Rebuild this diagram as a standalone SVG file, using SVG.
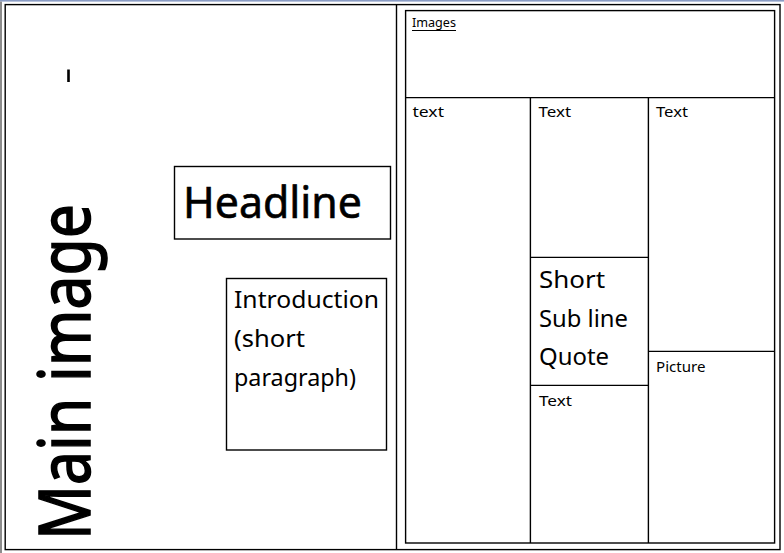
<svg xmlns="http://www.w3.org/2000/svg" width="784" height="553" viewBox="0 0 784 553">
<style>
.ln{fill:none;stroke:#000;stroke-width:1.4}
.t{font-family:"Noto Sans","Open Sans",sans-serif;fill:#000}
.s{font-size:14px}
.m{font-size:23px}
</style>
<rect x="0" y="0" width="784" height="553" fill="#fff"/>
<rect x="0" y="0" width="784" height="1.6" fill="#8a9cc4"/>
<rect x="0" y="1.6" width="2" height="551.4" fill="#8c8c8c"/>
<g id="page">
<rect class="ln" x="5.2" y="4.6" width="774.8" height="545"/>
<line class="ln" x1="396.5" y1="4.6" x2="396.5" y2="549.6"/>
</g>
<g id="main-image">
<text class="t" transform="translate(90,540) rotate(-90)" font-size="72" stroke="#000" stroke-width="1.6" textLength="336" lengthAdjust="spacingAndGlyphs">Main image</text>
<rect x="67.2" y="69.5" width="2.6" height="12.5" fill="#000"/>
</g>
<g id="headline">
<rect class="ln" x="174.5" y="166.5" width="216" height="72.5"/>
<text class="t" x="183" y="218" font-size="43" stroke="#000" stroke-width="0.6" textLength="179" lengthAdjust="spacingAndGlyphs">Headline</text>
</g>
<g id="introduction">
<rect class="ln" x="226.5" y="278.5" width="160" height="171.5"/>
<text class="t m" x="234" y="308" textLength="145" lengthAdjust="spacingAndGlyphs">Introduction</text>
<text class="t m" x="234" y="347" textLength="71" lengthAdjust="spacingAndGlyphs">(short</text>
<text class="t m" x="234" y="386" textLength="122" lengthAdjust="spacingAndGlyphs">paragraph)</text>
</g>
<g id="right-panel">
<rect class="ln" x="405.6" y="10.6" width="369" height="532.4"/>
<line class="ln" x1="405.6" y1="97.6" x2="774.6" y2="97.6"/>
<line class="ln" x1="530.4" y1="97.6" x2="530.4" y2="543"/>
<line class="ln" x1="648.4" y1="97.6" x2="648.4" y2="543"/>
</g>
<g id="images">
<text class="t" x="412" y="27" font-size="12" textLength="44" lengthAdjust="spacingAndGlyphs">Images</text>
<line x1="412" y1="30.5" x2="456" y2="30.5" stroke="#000" stroke-width="1"/>
</g>
<g id="col1-text">
<text class="t s" x="412.5" y="117" textLength="31.5" lengthAdjust="spacingAndGlyphs">text</text>
</g>
<g id="col2-text">
<text class="t s" x="538.5" y="117" textLength="32.5" lengthAdjust="spacingAndGlyphs">Text</text>
</g>
<g id="col3-text">
<text class="t s" x="656" y="117" textLength="32" lengthAdjust="spacingAndGlyphs">Text</text>
</g>
<g id="quote">
<line class="ln" x1="530.4" y1="257.4" x2="648.4" y2="257.4"/>
<line class="ln" x1="530.4" y1="385.4" x2="648.4" y2="385.4"/>
<text class="t" x="539" y="288" font-size="24" textLength="66" lengthAdjust="spacingAndGlyphs">Short</text>
<text class="t" x="539" y="327" font-size="24" textLength="89" lengthAdjust="spacingAndGlyphs">Sub line</text>
<text class="t" x="539" y="365" font-size="24" textLength="70" lengthAdjust="spacingAndGlyphs">Quote</text>
</g>
<g id="col2-lower-text">
<text class="t s" x="539" y="405.5" textLength="33" lengthAdjust="spacingAndGlyphs">Text</text>
</g>
<g id="picture">
<line class="ln" x1="648.4" y1="351.4" x2="774.6" y2="351.4"/>
<text class="t s" x="656" y="371.5" textLength="49.5" lengthAdjust="spacingAndGlyphs">Picture</text>
</g>
<g id="connectors"/>
</svg>
